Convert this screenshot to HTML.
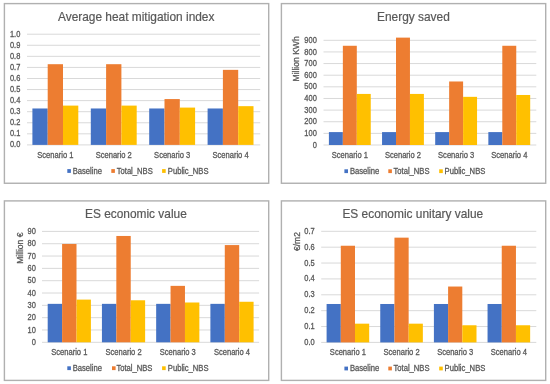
<!DOCTYPE html>
<html><head><meta charset="utf-8"><style>
html,body{margin:0;padding:0;width:550px;height:384px;overflow:hidden;background:#fff}
svg{position:absolute;left:0;top:0;will-change:transform;filter:blur(0.3px)}
svg text{font-family:"Liberation Sans", sans-serif}
</style></head><body>
<svg width="550" height="384" viewBox="0 0 550 384">
<rect x="0" y="0" width="550" height="384" fill="#fff"/>
<rect x="4.4" y="3.6" width="264.30" height="179.65" fill="none" stroke="#b0b0b0" stroke-width="1.4"/>
<text stroke="#595959" stroke-width="0.2" transform="translate(136.20,20.80)" text-anchor="middle" font-size="11.9" fill="#595959">Average heat mitigation index</text>
<rect x="27.0" y="144.40" width="233.20" height="1" fill="#d9d9d9"/>
<text transform="translate(20.30,147.47) scale(0.9,1)" text-anchor="end" font-size="8.3" fill="#595959" stroke="#595959" stroke-width="0.3">0.0</text>
<rect x="27.0" y="133.33" width="233.20" height="1" fill="#d9d9d9"/>
<text transform="translate(20.30,136.40) scale(0.9,1)" text-anchor="end" font-size="8.3" fill="#595959" stroke="#595959" stroke-width="0.3">0.1</text>
<rect x="27.0" y="122.26" width="233.20" height="1" fill="#d9d9d9"/>
<text transform="translate(20.30,125.33) scale(0.9,1)" text-anchor="end" font-size="8.3" fill="#595959" stroke="#595959" stroke-width="0.3">0.2</text>
<rect x="27.0" y="111.19" width="233.20" height="1" fill="#d9d9d9"/>
<text transform="translate(20.30,114.26) scale(0.9,1)" text-anchor="end" font-size="8.3" fill="#595959" stroke="#595959" stroke-width="0.3">0.3</text>
<rect x="27.0" y="100.12" width="233.20" height="1" fill="#d9d9d9"/>
<text transform="translate(20.30,103.19) scale(0.9,1)" text-anchor="end" font-size="8.3" fill="#595959" stroke="#595959" stroke-width="0.3">0.4</text>
<rect x="27.0" y="89.05" width="233.20" height="1" fill="#d9d9d9"/>
<text transform="translate(20.30,92.12) scale(0.9,1)" text-anchor="end" font-size="8.3" fill="#595959" stroke="#595959" stroke-width="0.3">0.5</text>
<rect x="27.0" y="77.98" width="233.20" height="1" fill="#d9d9d9"/>
<text transform="translate(20.30,81.05) scale(0.9,1)" text-anchor="end" font-size="8.3" fill="#595959" stroke="#595959" stroke-width="0.3">0.6</text>
<rect x="27.0" y="66.91" width="233.20" height="1" fill="#d9d9d9"/>
<text transform="translate(20.30,69.98) scale(0.9,1)" text-anchor="end" font-size="8.3" fill="#595959" stroke="#595959" stroke-width="0.3">0.7</text>
<rect x="27.0" y="55.84" width="233.20" height="1" fill="#d9d9d9"/>
<text transform="translate(20.30,58.91) scale(0.9,1)" text-anchor="end" font-size="8.3" fill="#595959" stroke="#595959" stroke-width="0.3">0.8</text>
<rect x="27.0" y="44.77" width="233.20" height="1" fill="#d9d9d9"/>
<text transform="translate(20.30,47.84) scale(0.9,1)" text-anchor="end" font-size="8.3" fill="#595959" stroke="#595959" stroke-width="0.3">0.9</text>
<rect x="27.0" y="33.70" width="233.20" height="1" fill="#d9d9d9"/>
<text transform="translate(20.30,36.77) scale(0.9,1)" text-anchor="end" font-size="8.3" fill="#595959" stroke="#595959" stroke-width="0.3">1.0</text>
<rect x="32.40" y="108.48" width="15.30" height="36.42" fill="#4472C4"/>
<rect x="47.70" y="64.20" width="15.30" height="80.70" fill="#ED7D31"/>
<rect x="63.00" y="105.60" width="15.30" height="39.30" fill="#FFC000"/>
<text transform="translate(55.35,157.80) scale(0.9,1)" text-anchor="middle" font-size="8.4" fill="#595959" stroke="#595959" stroke-width="0.3">Scenario 1</text>
<rect x="90.80" y="108.48" width="15.30" height="36.42" fill="#4472C4"/>
<rect x="106.10" y="64.20" width="15.30" height="80.70" fill="#ED7D31"/>
<rect x="121.40" y="105.60" width="15.30" height="39.30" fill="#FFC000"/>
<text transform="translate(113.75,157.80) scale(0.9,1)" text-anchor="middle" font-size="8.4" fill="#595959" stroke="#595959" stroke-width="0.3">Scenario 2</text>
<rect x="149.20" y="108.48" width="15.30" height="36.42" fill="#4472C4"/>
<rect x="164.50" y="99.07" width="15.30" height="45.83" fill="#ED7D31"/>
<rect x="179.80" y="107.59" width="15.30" height="37.31" fill="#FFC000"/>
<text transform="translate(172.15,157.80) scale(0.9,1)" text-anchor="middle" font-size="8.4" fill="#595959" stroke="#595959" stroke-width="0.3">Scenario 3</text>
<rect x="207.60" y="108.48" width="15.30" height="36.42" fill="#4472C4"/>
<rect x="222.90" y="69.85" width="15.30" height="75.05" fill="#ED7D31"/>
<rect x="238.20" y="106.16" width="15.30" height="38.74" fill="#FFC000"/>
<text transform="translate(230.55,157.80) scale(0.9,1)" text-anchor="middle" font-size="8.4" fill="#595959" stroke="#595959" stroke-width="0.3">Scenario 4</text>
<rect x="67.3" y="169.10" width="3.6" height="3.8" fill="#4472C4"/>
<text transform="translate(72.70,173.80) scale(0.91,1)" text-anchor="start" font-size="8.4" fill="#595959" stroke="#595959" stroke-width="0.3">Baseline</text>
<rect x="111.3" y="169.10" width="3.6" height="3.8" fill="#ED7D31"/>
<text transform="translate(116.70,173.80) scale(0.91,1)" text-anchor="start" font-size="8.4" fill="#595959" stroke="#595959" stroke-width="0.3">Total_NBS</text>
<rect x="162.1" y="169.10" width="3.6" height="3.8" fill="#FFC000"/>
<text transform="translate(167.80,173.80) scale(0.91,1)" text-anchor="start" font-size="8.4" fill="#595959" stroke="#595959" stroke-width="0.3">Public_NBS</text>
<rect x="281.4" y="3.6" width="264.30" height="179.65" fill="none" stroke="#b0b0b0" stroke-width="1.4"/>
<text stroke="#595959" stroke-width="0.2" transform="translate(413.40,21.00)" text-anchor="middle" font-size="11.9" fill="#595959">Energy saved</text>
<rect x="323.5" y="144.50" width="212.80" height="1" fill="#d9d9d9"/>
<text transform="translate(316.80,147.57) scale(0.9,1)" text-anchor="end" font-size="8.3" fill="#595959" stroke="#595959" stroke-width="0.3">0</text>
<rect x="323.5" y="132.87" width="212.80" height="1" fill="#d9d9d9"/>
<text transform="translate(316.80,135.94) scale(0.9,1)" text-anchor="end" font-size="8.3" fill="#595959" stroke="#595959" stroke-width="0.3">100</text>
<rect x="323.5" y="121.23" width="212.80" height="1" fill="#d9d9d9"/>
<text transform="translate(316.80,124.30) scale(0.9,1)" text-anchor="end" font-size="8.3" fill="#595959" stroke="#595959" stroke-width="0.3">200</text>
<rect x="323.5" y="109.60" width="212.80" height="1" fill="#d9d9d9"/>
<text transform="translate(316.80,112.67) scale(0.9,1)" text-anchor="end" font-size="8.3" fill="#595959" stroke="#595959" stroke-width="0.3">300</text>
<rect x="323.5" y="97.97" width="212.80" height="1" fill="#d9d9d9"/>
<text transform="translate(316.80,101.04) scale(0.9,1)" text-anchor="end" font-size="8.3" fill="#595959" stroke="#595959" stroke-width="0.3">400</text>
<rect x="323.5" y="86.33" width="212.80" height="1" fill="#d9d9d9"/>
<text transform="translate(316.80,89.40) scale(0.9,1)" text-anchor="end" font-size="8.3" fill="#595959" stroke="#595959" stroke-width="0.3">500</text>
<rect x="323.5" y="74.70" width="212.80" height="1" fill="#d9d9d9"/>
<text transform="translate(316.80,77.77) scale(0.9,1)" text-anchor="end" font-size="8.3" fill="#595959" stroke="#595959" stroke-width="0.3">600</text>
<rect x="323.5" y="63.07" width="212.80" height="1" fill="#d9d9d9"/>
<text transform="translate(316.80,66.14) scale(0.9,1)" text-anchor="end" font-size="8.3" fill="#595959" stroke="#595959" stroke-width="0.3">700</text>
<rect x="323.5" y="51.43" width="212.80" height="1" fill="#d9d9d9"/>
<text transform="translate(316.80,54.50) scale(0.9,1)" text-anchor="end" font-size="8.3" fill="#595959" stroke="#595959" stroke-width="0.3">800</text>
<rect x="323.5" y="39.80" width="212.80" height="1" fill="#d9d9d9"/>
<text transform="translate(316.80,42.87) scale(0.9,1)" text-anchor="end" font-size="8.3" fill="#595959" stroke="#595959" stroke-width="0.3">900</text>
<rect x="328.90" y="132.09" width="13.95" height="12.91" fill="#4472C4"/>
<rect x="342.85" y="45.77" width="13.95" height="99.23" fill="#ED7D31"/>
<rect x="356.80" y="93.93" width="13.95" height="51.07" fill="#FFC000"/>
<text transform="translate(349.82,158.10) scale(0.9,1)" text-anchor="middle" font-size="8.4" fill="#595959" stroke="#595959" stroke-width="0.3">Scenario 1</text>
<rect x="382.05" y="132.09" width="13.95" height="12.91" fill="#4472C4"/>
<rect x="396.00" y="37.62" width="13.95" height="107.38" fill="#ED7D31"/>
<rect x="409.95" y="93.93" width="13.95" height="51.07" fill="#FFC000"/>
<text transform="translate(402.97,158.10) scale(0.9,1)" text-anchor="middle" font-size="8.4" fill="#595959" stroke="#595959" stroke-width="0.3">Scenario 2</text>
<rect x="435.20" y="132.09" width="13.95" height="12.91" fill="#4472C4"/>
<rect x="449.15" y="81.48" width="13.95" height="63.52" fill="#ED7D31"/>
<rect x="463.10" y="96.84" width="13.95" height="48.16" fill="#FFC000"/>
<text transform="translate(456.12,158.10) scale(0.9,1)" text-anchor="middle" font-size="8.4" fill="#595959" stroke="#595959" stroke-width="0.3">Scenario 3</text>
<rect x="488.35" y="132.09" width="13.95" height="12.91" fill="#4472C4"/>
<rect x="502.30" y="45.77" width="13.95" height="99.23" fill="#ED7D31"/>
<rect x="516.25" y="94.98" width="13.95" height="50.02" fill="#FFC000"/>
<text transform="translate(509.27,158.10) scale(0.9,1)" text-anchor="middle" font-size="8.4" fill="#595959" stroke="#595959" stroke-width="0.3">Scenario 4</text>
<rect x="344.4" y="169.30" width="3.6" height="3.8" fill="#4472C4"/>
<text transform="translate(349.90,174.00) scale(0.91,1)" text-anchor="start" font-size="8.4" fill="#595959" stroke="#595959" stroke-width="0.3">Baseline</text>
<rect x="388.3" y="169.30" width="3.6" height="3.8" fill="#ED7D31"/>
<text transform="translate(393.50,174.00) scale(0.91,1)" text-anchor="start" font-size="8.4" fill="#595959" stroke="#595959" stroke-width="0.3">Total_NBS</text>
<rect x="439.2" y="169.30" width="3.6" height="3.8" fill="#FFC000"/>
<text transform="translate(444.60,174.00) scale(0.91,1)" text-anchor="start" font-size="8.4" fill="#595959" stroke="#595959" stroke-width="0.3">Public_NBS</text>
<text transform="translate(298.85,58.90) rotate(-90) scale(0.92,1)" text-anchor="middle" font-size="9.3" fill="#595959" stroke="#595959" stroke-width="0.3">Million KWh</text>
<rect x="4.4" y="200.9" width="264.30" height="179.50" fill="none" stroke="#b0b0b0" stroke-width="1.4"/>
<text stroke="#595959" stroke-width="0.2" transform="translate(135.90,218.00)" text-anchor="middle" font-size="11.9" fill="#595959">ES economic value</text>
<rect x="42.0" y="341.80" width="217.10" height="1" fill="#d9d9d9"/>
<text transform="translate(35.90,344.87) scale(0.9,1)" text-anchor="end" font-size="8.3" fill="#595959" stroke="#595959" stroke-width="0.3">0</text>
<rect x="42.0" y="329.48" width="217.10" height="1" fill="#d9d9d9"/>
<text transform="translate(35.90,332.55) scale(0.9,1)" text-anchor="end" font-size="8.3" fill="#595959" stroke="#595959" stroke-width="0.3">10</text>
<rect x="42.0" y="317.16" width="217.10" height="1" fill="#d9d9d9"/>
<text transform="translate(35.90,320.23) scale(0.9,1)" text-anchor="end" font-size="8.3" fill="#595959" stroke="#595959" stroke-width="0.3">20</text>
<rect x="42.0" y="304.83" width="217.10" height="1" fill="#d9d9d9"/>
<text transform="translate(35.90,307.90) scale(0.9,1)" text-anchor="end" font-size="8.3" fill="#595959" stroke="#595959" stroke-width="0.3">30</text>
<rect x="42.0" y="292.51" width="217.10" height="1" fill="#d9d9d9"/>
<text transform="translate(35.90,295.58) scale(0.9,1)" text-anchor="end" font-size="8.3" fill="#595959" stroke="#595959" stroke-width="0.3">40</text>
<rect x="42.0" y="280.19" width="217.10" height="1" fill="#d9d9d9"/>
<text transform="translate(35.90,283.26) scale(0.9,1)" text-anchor="end" font-size="8.3" fill="#595959" stroke="#595959" stroke-width="0.3">50</text>
<rect x="42.0" y="267.87" width="217.10" height="1" fill="#d9d9d9"/>
<text transform="translate(35.90,270.94) scale(0.9,1)" text-anchor="end" font-size="8.3" fill="#595959" stroke="#595959" stroke-width="0.3">60</text>
<rect x="42.0" y="255.54" width="217.10" height="1" fill="#d9d9d9"/>
<text transform="translate(35.90,258.62) scale(0.9,1)" text-anchor="end" font-size="8.3" fill="#595959" stroke="#595959" stroke-width="0.3">70</text>
<rect x="42.0" y="243.22" width="217.10" height="1" fill="#d9d9d9"/>
<text transform="translate(35.90,246.29) scale(0.9,1)" text-anchor="end" font-size="8.3" fill="#595959" stroke="#595959" stroke-width="0.3">80</text>
<rect x="42.0" y="230.90" width="217.10" height="1" fill="#d9d9d9"/>
<text transform="translate(35.90,233.97) scale(0.9,1)" text-anchor="end" font-size="8.3" fill="#595959" stroke="#595959" stroke-width="0.3">90</text>
<rect x="47.70" y="303.85" width="14.40" height="38.45" fill="#4472C4"/>
<rect x="62.10" y="243.97" width="14.40" height="98.33" fill="#ED7D31"/>
<rect x="76.50" y="299.60" width="14.40" height="42.70" fill="#FFC000"/>
<text transform="translate(69.30,355.10) scale(0.9,1)" text-anchor="middle" font-size="8.4" fill="#595959" stroke="#595959" stroke-width="0.3">Scenario 1</text>
<rect x="101.93" y="303.85" width="14.40" height="38.45" fill="#4472C4"/>
<rect x="116.33" y="235.96" width="14.40" height="106.34" fill="#ED7D31"/>
<rect x="130.73" y="300.28" width="14.40" height="42.02" fill="#FFC000"/>
<text transform="translate(123.53,355.10) scale(0.9,1)" text-anchor="middle" font-size="8.4" fill="#595959" stroke="#595959" stroke-width="0.3">Scenario 2</text>
<rect x="156.16" y="303.85" width="14.40" height="38.45" fill="#4472C4"/>
<rect x="170.56" y="285.86" width="14.40" height="56.44" fill="#ED7D31"/>
<rect x="184.96" y="302.50" width="14.40" height="39.80" fill="#FFC000"/>
<text transform="translate(177.76,355.10) scale(0.9,1)" text-anchor="middle" font-size="8.4" fill="#595959" stroke="#595959" stroke-width="0.3">Scenario 3</text>
<rect x="210.39" y="303.85" width="14.40" height="38.45" fill="#4472C4"/>
<rect x="224.79" y="245.08" width="14.40" height="97.22" fill="#ED7D31"/>
<rect x="239.19" y="301.76" width="14.40" height="40.54" fill="#FFC000"/>
<text transform="translate(231.99,355.10) scale(0.9,1)" text-anchor="middle" font-size="8.4" fill="#595959" stroke="#595959" stroke-width="0.3">Scenario 4</text>
<rect x="67.3" y="366.30" width="3.6" height="3.8" fill="#4472C4"/>
<text transform="translate(72.70,371.00) scale(0.91,1)" text-anchor="start" font-size="8.4" fill="#595959" stroke="#595959" stroke-width="0.3">Baseline</text>
<rect x="112.0" y="366.30" width="3.6" height="3.8" fill="#ED7D31"/>
<text transform="translate(116.40,371.00) scale(0.91,1)" text-anchor="start" font-size="8.4" fill="#595959" stroke="#595959" stroke-width="0.3">Total_NBS</text>
<rect x="162.1" y="366.30" width="3.6" height="3.8" fill="#FFC000"/>
<text transform="translate(167.80,371.00) scale(0.91,1)" text-anchor="start" font-size="8.4" fill="#595959" stroke="#595959" stroke-width="0.3">Public_NBS</text>
<text transform="translate(22.95,248.20) rotate(-90) scale(0.92,1)" text-anchor="middle" font-size="9.3" fill="#595959" stroke="#595959" stroke-width="0.3">Million €</text>
<rect x="281.4" y="200.9" width="264.30" height="179.50" fill="none" stroke="#b0b0b0" stroke-width="1.4"/>
<text stroke="#595959" stroke-width="0.2" transform="translate(412.80,218.00)" text-anchor="middle" font-size="11.9" fill="#595959">ES economic unitary value</text>
<rect x="321.2" y="341.90" width="215.10" height="1" fill="#d9d9d9"/>
<text transform="translate(314.70,344.97) scale(0.9,1)" text-anchor="end" font-size="8.3" fill="#595959" stroke="#595959" stroke-width="0.3">0.0</text>
<rect x="321.2" y="326.03" width="215.10" height="1" fill="#d9d9d9"/>
<text transform="translate(314.70,329.10) scale(0.9,1)" text-anchor="end" font-size="8.3" fill="#595959" stroke="#595959" stroke-width="0.3">0.1</text>
<rect x="321.2" y="310.16" width="215.10" height="1" fill="#d9d9d9"/>
<text transform="translate(314.70,313.23) scale(0.9,1)" text-anchor="end" font-size="8.3" fill="#595959" stroke="#595959" stroke-width="0.3">0.2</text>
<rect x="321.2" y="294.29" width="215.10" height="1" fill="#d9d9d9"/>
<text transform="translate(314.70,297.36) scale(0.9,1)" text-anchor="end" font-size="8.3" fill="#595959" stroke="#595959" stroke-width="0.3">0.3</text>
<rect x="321.2" y="278.41" width="215.10" height="1" fill="#d9d9d9"/>
<text transform="translate(314.70,281.49) scale(0.9,1)" text-anchor="end" font-size="8.3" fill="#595959" stroke="#595959" stroke-width="0.3">0.4</text>
<rect x="321.2" y="262.54" width="215.10" height="1" fill="#d9d9d9"/>
<text transform="translate(314.70,265.61) scale(0.9,1)" text-anchor="end" font-size="8.3" fill="#595959" stroke="#595959" stroke-width="0.3">0.5</text>
<rect x="321.2" y="246.67" width="215.10" height="1" fill="#d9d9d9"/>
<text transform="translate(314.70,249.74) scale(0.9,1)" text-anchor="end" font-size="8.3" fill="#595959" stroke="#595959" stroke-width="0.3">0.6</text>
<rect x="321.2" y="230.80" width="215.10" height="1" fill="#d9d9d9"/>
<text transform="translate(314.70,233.87) scale(0.9,1)" text-anchor="end" font-size="8.3" fill="#595959" stroke="#595959" stroke-width="0.3">0.7</text>
<rect x="326.60" y="303.99" width="14.20" height="38.41" fill="#4472C4"/>
<rect x="340.80" y="245.74" width="14.20" height="96.66" fill="#ED7D31"/>
<rect x="355.00" y="323.67" width="14.20" height="18.73" fill="#FFC000"/>
<text transform="translate(347.90,355.00) scale(0.9,1)" text-anchor="middle" font-size="8.4" fill="#595959" stroke="#595959" stroke-width="0.3">Scenario 1</text>
<rect x="380.25" y="303.99" width="14.20" height="38.41" fill="#4472C4"/>
<rect x="394.45" y="237.65" width="14.20" height="104.75" fill="#ED7D31"/>
<rect x="408.65" y="323.67" width="14.20" height="18.73" fill="#FFC000"/>
<text transform="translate(401.55,355.00) scale(0.9,1)" text-anchor="middle" font-size="8.4" fill="#595959" stroke="#595959" stroke-width="0.3">Scenario 2</text>
<rect x="433.90" y="303.99" width="14.20" height="38.41" fill="#4472C4"/>
<rect x="448.10" y="286.53" width="14.20" height="55.87" fill="#ED7D31"/>
<rect x="462.30" y="325.26" width="14.20" height="17.14" fill="#FFC000"/>
<text transform="translate(455.20,355.00) scale(0.9,1)" text-anchor="middle" font-size="8.4" fill="#595959" stroke="#595959" stroke-width="0.3">Scenario 3</text>
<rect x="487.55" y="303.99" width="14.20" height="38.41" fill="#4472C4"/>
<rect x="501.75" y="245.74" width="14.20" height="96.66" fill="#ED7D31"/>
<rect x="515.95" y="325.26" width="14.20" height="17.14" fill="#FFC000"/>
<text transform="translate(508.85,355.00) scale(0.9,1)" text-anchor="middle" font-size="8.4" fill="#595959" stroke="#595959" stroke-width="0.3">Scenario 4</text>
<rect x="344.4" y="366.60" width="3.6" height="3.8" fill="#4472C4"/>
<text transform="translate(349.90,371.30) scale(0.91,1)" text-anchor="start" font-size="8.4" fill="#595959" stroke="#595959" stroke-width="0.3">Baseline</text>
<rect x="388.3" y="366.60" width="3.6" height="3.8" fill="#ED7D31"/>
<text transform="translate(393.50,371.30) scale(0.91,1)" text-anchor="start" font-size="8.4" fill="#595959" stroke="#595959" stroke-width="0.3">Total_NBS</text>
<rect x="439.2" y="366.60" width="3.6" height="3.8" fill="#FFC000"/>
<text transform="translate(444.60,371.30) scale(0.91,1)" text-anchor="start" font-size="8.4" fill="#595959" stroke="#595959" stroke-width="0.3">Public_NBS</text>
<text transform="translate(299.75,241.60) rotate(-90) scale(0.92,1)" text-anchor="middle" font-size="9.3" fill="#595959" stroke="#595959" stroke-width="0.3">€/m2</text>
</svg>
</body></html>
